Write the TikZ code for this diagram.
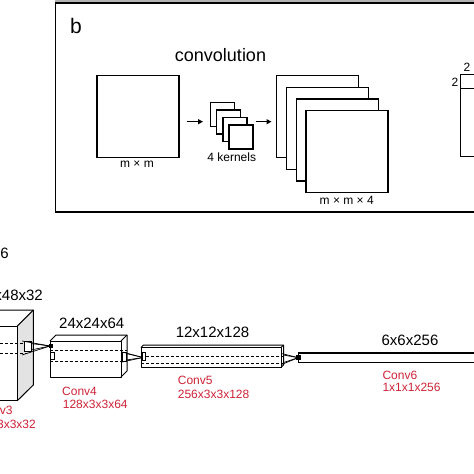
\documentclass[tikz,border=0pt]{standalone}
\usepackage{fontspec}
\setmainfont{Liberation Sans}
\usetikzlibrary{arrows.meta}
\definecolor{convred}{RGB}{205,35,55}
\begin{document}
\begin{tikzpicture}[x=1pt,y=-1pt,
  sq/.style={draw,fill=white,line width=1.3pt,inner sep=0pt,anchor=north west},
  lbl/.style={inner sep=0pt,font=\fontsize{12}{12}\selectfont},
  dim/.style={inner sep=0pt,font=\fontsize{15}{15}\selectfont},
  convlbl/.style={inner sep=0pt,text=convred,font=\fontsize{12}{12}\selectfont},
  arr/.style={-{Triangle[length=5pt,width=5pt]},line width=1.3pt},
  blk/.style={line width=1pt,line join=round},
  dsh/.style={dash pattern=on 3pt off 2pt,line width=0.8pt},
  pyr/.style={line width=0.7pt},
  win/.style={draw,fill=white,line width=0.6pt}
]
\useasboundingbox (0,0) rectangle (474,474);
% top frame
\fill[gray!60] (55,0) rectangle (480,2.2);
\draw[line width=1.6pt] (55.5,3.2) rectangle (490,212);
\node[inner sep=0pt,font=\fontsize{21}{21}\selectfont] (lb) at (76,25.5) {b};
\node[inner sep=0pt,font=\fontsize{18}{18}\selectfont] (conv) at (220.5,55.5) {convolution};
% input
\node[sq,minimum width=82pt,minimum height=82pt] (inp) at (96.3,74.7) {};
\node[lbl] (inplbl) at (137,164) {m × m};
% kernels
\foreach \i in {0,1,2,3}{
  \node[sq,minimum width=24pt,minimum height=24pt] (k\i) at (210+6.1*\i,101.7+7.5*\i) {};
}
\node[lbl] (klbl) at (231.7,157.3) {4 kernels};
% feature maps
\foreach \i in {0,1,2,3}{
  \node[sq,minimum width=82pt,minimum height=82pt] (f\i) at (275.7+9.9*\i,74.7+11.8*\i) {};
}
\node[lbl] (flbl) at (346.7,200.7) {m × m × 4};
% arrows
\coordinate (a1s) at (186.7,121.7);
\coordinate (a1e) at (203,121.7);
\coordinate (a2s) at (255.7,121.7);
\coordinate (a2e) at (271.5,121.7);
\draw[arr] (a1s) -- (a1e);
\draw[arr] (a2s) -- (a2e);
% pooling square (right, clipped)
\draw[line width=1.3pt] (460.7,74.7) rectangle (560,156.3);
\draw[line width=1.3pt] (460.7,88.3) -- (560,88.3);
\node[inner sep=0pt,font=\fontsize{12}{12}\selectfont] (p1) at (467,67.7) {2};
\node[inner sep=0pt,font=\fontsize{12}{12}\selectfont] (p2) at (455,82.3) {2};

% ---- bottom network ----
\node[dim,anchor=east] (d2) at (9,253.5) {96x96x16};
\node[dim,anchor=east] (d3) at (43,295) {48x48x32};
\node[convlbl,anchor=east] (c3a) at (12.7,410) {Conv3};
\node[convlbl,anchor=east] (c3b) at (36,424) {64x3x3x32};
% block 3
\fill[gray!22] (17.3,326) -- (33.3,310) -- (33.3,385) -- (17.3,400.7) -- cycle;
\draw[blk] (-5,326) -- (17.3,326) -- (17.3,400.7) -- (-5,400.7);
\draw[blk] (-5,310) -- (33.3,310) -- (33.3,385) -- (17.3,400.7);
\draw[blk] (17.3,326) -- (33.3,310);
\draw[dsh] (-5,343.3) -- (27,343.3);
\draw[dsh] (-5,353.3) -- (27,353.3);
\coordinate (ap1) at (50,346);
\draw[win] (24,341.5) rectangle (31,351);
\draw[pyr] (22,341) -- (ap1);
\draw[pyr] (22,355) -- (ap1);
\draw[pyr] (31,343.5) -- (ap1);
\draw[pyr] (31,350) -- (ap1);
% block 4
\node[dim] (d4) at (91.7,323) {24x24x64};
\draw[blk] (50,341) rectangle (121,377);
\draw[blk] (50,341) -- (56,335) -- (127,335) -- (127,371) -- (121,377);
\draw[blk] (121,341) -- (127,335);
\draw[dsh] (50,350.7) -- (127,350.7);
\draw[dsh] (50,361.7) -- (127,361.7);
\fill (48.5,343.8) rectangle (52.5,348.2);
\draw[win] (50.5,352.5) rectangle (54.5,359);
\node[convlbl,anchor=west] (c4a) at (62,391) {Conv4};
\node[convlbl,anchor=west] (c4b) at (62.7,404) {128x3x3x64};
\coordinate (ap2) at (143,357.5);
\draw[win] (122,352.5) rectangle (126.3,361);
\draw[pyr] (122,352) -- (ap2);
\draw[pyr] (122,362) -- (ap2);
\draw[pyr] (126.3,353.5) -- (ap2);
\draw[pyr] (126.3,360) -- (ap2);
% block 5
\node[dim] (d5) at (212.5,332.3) {12x12x128};
\draw[blk] (141,347.5) rectangle (281,367.5);
\draw[blk] (141,347.5) -- (143.5,345) -- (283.5,345) -- (283.5,365) -- (281,367.5);
\draw[blk] (281,347.5) -- (283.5,345);
\draw[dsh] (141,356) -- (283,356);
\draw[dsh] (141,363.3) -- (283,363.3);
\draw[win] (142,352.5) rectangle (145.5,360);
\node[convlbl,anchor=west] (c5a) at (177.7,380.7) {Conv5};
\node[convlbl,anchor=west] (c5b) at (177.7,394) {256x3x3x128};
\coordinate (ap3) at (298.3,357.7);
\draw[pyr] (281.5,353.5) -- (ap3);
\draw[pyr] (281.5,364.5) -- (ap3);
\draw[pyr] (283.5,355) -- (ap3);
\draw[pyr] (283.5,362.5) -- (ap3);
% block 6
\node[dim] (d6) at (410,340) {6x6x256};
\draw[line width=1pt] (298.3,352.5) rectangle (520,362.5);
\draw[line width=2pt] (298.3,352.5) -- (520,352.5);
\fill (296.3,355.2) rectangle (300.5,360.2);
\node[convlbl,anchor=west] (c6a) at (382.3,375) {Conv6};
\node[convlbl,anchor=west] (c6b) at (382.3,387.3) {1x1x1x256};
\end{tikzpicture}
\end{document}
